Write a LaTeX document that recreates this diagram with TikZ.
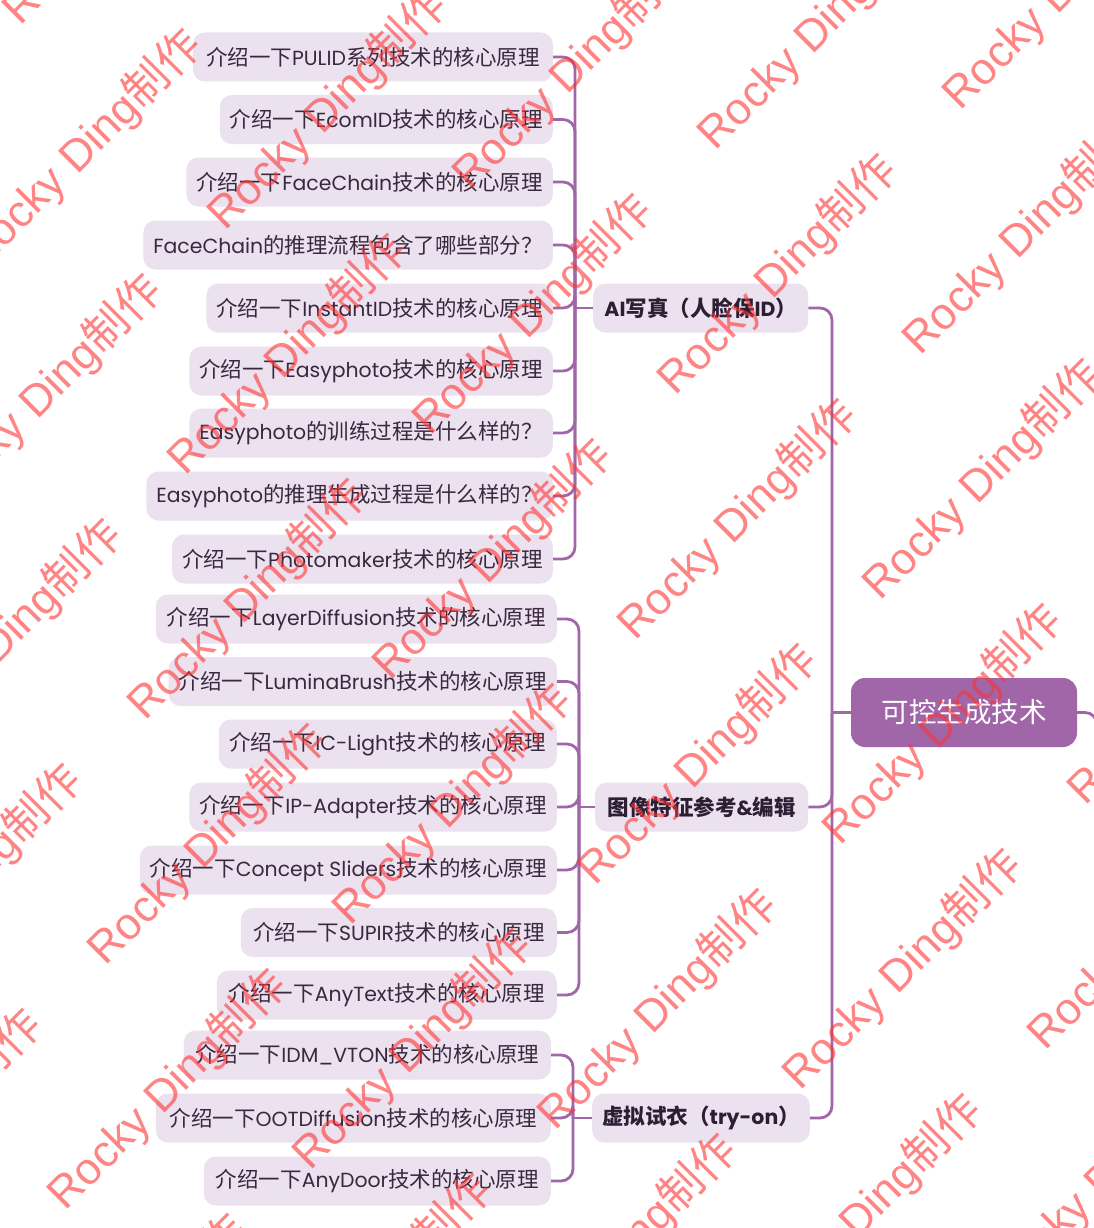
\documentclass[tikz,border=0pt]{standalone}
\usepackage{fontspec}
\setmainfont{Noto Sans CJK SC}
\newfontfamily\lat[Scale=0.95]{Poppins}
\newfontfamily\wmlat{Liberation Sans}
\definecolor{mmpurple}{RGB}{160,102,168}
\definecolor{mmleaf}{RGB}{235,225,239}
\definecolor{mmtext}{RGB}{58,40,62}
\definecolor{mmdark}{RGB}{46,30,52}
\definecolor{wmred}{RGB}{255,50,50}

\begin{document}
\begin{tikzpicture}[x=1pt,y=-1pt,
  leaf/.style={fill=mmleaf,rounded corners=12pt,text=mmtext,inner xsep=10pt,
    minimum height=49pt,anchor=east,font=\fontsize{21.5}{24}\selectfont},
  branch/.style={leaf,anchor=west,text=mmdark,font=\bfseries\fontsize{21.5}{24}\selectfont},
  rootbox/.style={fill=mmpurple,rounded corners=14pt,text=white,minimum width=226pt,
    minimum height=69pt,font=\fontsize{27.5}{30}\selectfont},
  conn/.style={draw=mmpurple,line width=2.8pt,rounded corners=12pt},
  wm/.style={text=wmred,text opacity=0.6,rotate=45,font=\fontsize{44.5}{48}\selectfont}]
\fill[white] (0,0) rectangle (1094,1228);
\useasboundingbox (0,0) rectangle (1094,1228);
% racine
\node[rootbox] (root) at (964,712.5) {可控生成技术};
\coordinate (rootbus) at (832,712.5);
\coordinate (offr) at (1097,760);
\draw[conn] (root.east) -| (offr);
% branches
\node[branch,minimum width=215pt] (ai) at (593,308) {{\lat AI}写真（人脸保{\lat ID}）};
\node[branch,minimum width=213pt] (img) at (595,807) {图像特征参考{\lat\&}编辑};
\node[branch,minimum width=216pt] (vton) at (592,1118) {虚拟试衣（{\lat try-on}）};
\foreach \b in {ai,img,vton}{ \draw[conn] (\b.east) -| (rootbus); }
\draw[conn] (rootbus) -- (root.west);
% AI写真 : 9 questions
\coordinate (aibus) at (575,308);
\foreach \n/\y/\w/\t in {pulid/57/360/{介绍一下{\lat PULID}系列技术的核心原理},
  ecomid/119.5/333/{介绍一下{\lat EcomID}技术的核心原理},
  facechain/182/362/{介绍一下{\lat FaceChain}技术的核心原理},
  fcinfer/245/406/{{\lat FaceChain}的推理流程包含了哪些部分？},
  instantid/308/344/{介绍一下{\lat InstantID}技术的核心原理},
  easyphoto/371/362/{介绍一下{\lat Easyphoto}技术的核心原理},
  eptrain/433/362/{{\lat Easyphoto}的训练过程是什么样的？},
  epinfer/496/406/{{\lat Easyphoto}的推理生成过程是什么样的？},
  photomaker/559/376/{介绍一下{\lat Photomaker}技术的核心原理}}{
  \node[leaf,minimum width=\w pt] (\n) at (553,\y) {\t};
  \draw[conn] (\n.east) -| (aibus);
}
\draw[conn] (aibus) -- (ai.west);
% image : 7 questions
\coordinate (imgbus) at (579,807);
\foreach \n/\y/\w/\t in {layerdiff/619/401/{介绍一下{\lat LayerDiffusion}技术的核心原理},
  lumina/681.5/384/{介绍一下{\lat LuminaBrush}技术的核心原理},
  iclight/744/338/{介绍一下{\lat IC-Light}技术的核心原理},
  ipadapter/807/366/{介绍一下{\lat IP-Adapter}技术的核心原理},
  sliders/870/415/{介绍一下{\lat Concept Sliders}技术的核心原理},
  supir/932.5/316/{介绍一下{\lat SUPIR}技术的核心原理},
  anytext/995/340/{介绍一下{\lat AnyText}技术的核心原理}}{
  \node[leaf,minimum width=\w pt] (\n) at (557,\y) {\t};
  \draw[conn] (\n.east) -| (imgbus);
}
\draw[conn] (imgbus) -- (img.west);
% try-on : 3 questions
\coordinate (vtonbus) at (573,1118);
\foreach \n/\y/\w/\t in {idmvton/1055/367/{介绍一下{\lat IDM\_VTON}技术的核心原理},
  ootd/1118/395/{介绍一下{\lat OOTDiffusion}技术的核心原理},
  anydoor/1181/347/{介绍一下{\lat AnyDoor}技术的核心原理}}{
  \node[leaf,minimum width=\w pt] (\n) at (551,\y) {\t};
  \draw[conn] (\n.east) -| (vtonbus);
}
\draw[conn] (vtonbus) -- (vton.west);
% filigrane (only the ones that touch the page)
\begin{scope}
\clip (0,0) rectangle (1094,1228);
\foreach \i in {-5,...,3}{
  \foreach \j in {-4,...,5}{
    \pgfmathtruncatemacro\cx{738+245*\i-40*\j}
    \pgfmathtruncatemacro\cy{520-40*\i+245*\j}
    \ifnum\cx>-110 \ifnum\cx<1205 \ifnum\cy>-110 \ifnum\cy<1340
      \node[wm] (wm\i\j) at (\cx,\cy) {{\wmlat Rocky Ding}制作};
    \fi\fi\fi\fi
  }
}
\end{scope}
\end{tikzpicture}
\end{document}
